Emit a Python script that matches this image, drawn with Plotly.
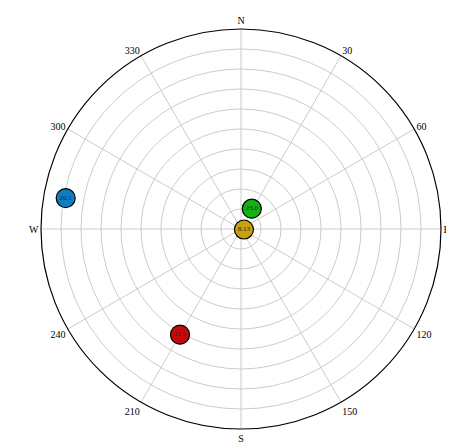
import plotly.graph_objects as go

# station readings: distance and bearing
r_vals = [1.15, 0.15, 8.9, 6.1]
theta_vals = [28, 100, 280, 210]
labels = ["23.0", "8.13", "20.1", "21.1"]
colors = ["#11b311", "#c9a10a", "#0b7fbf", "#c40b0b"]

tick_vals = [0, 30, 60, 90, 120, 150, 180, 210, 240, 270, 300, 330]
tick_text = ["N", "30", "60", "E", "120", "150", "S", "210", "240", "W", "300", "330"]

fig = go.Figure(go.Scatterpolar(
    r=r_vals, theta=theta_vals, mode="markers+text",
    text=labels, textposition="middle center",
    textfont=dict(size=7, color="#222222"),
    marker=dict(size=19, color=colors, line=dict(color="black", width=1.2)),
))

fig.update_layout(
    width=454, height=442, showlegend=False, autosize=False,
    paper_bgcolor="white",
    font=dict(family="Liberation Serif, DejaVu Serif, serif", size=10, color="black"),
    margin=dict(l=0, r=0, t=0, b=0, autoexpand=False),
    polar=dict(
        bgcolor="white",
        domain=dict(x=[33 / 454, 433 / 454], y=[21 / 442, 421 / 442]),
        radialaxis=dict(range=[0, 10], dtick=1, showticklabels=False, ticks="",
                        gridcolor="#cccccc", showline=False),
        angularaxis=dict(rotation=90, direction="clockwise",
                         tickvals=tick_vals, ticktext=tick_text, ticks="",
                         gridcolor="#cccccc", linecolor="black", linewidth=1.2),
    ),
)

fig.write_html("out.html")
